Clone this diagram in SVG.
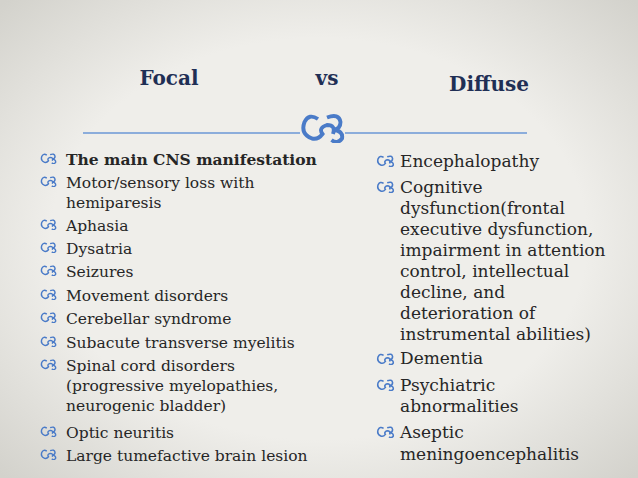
<svg xmlns="http://www.w3.org/2000/svg" width="638" height="478" viewBox="0 0 638 478">
<style>
.l{font-family:"DejaVu Serif","Liberation Serif",serif;font-size:15.5px;fill:#262626}
.r{font-family:"DejaVu Serif","Liberation Serif",serif;font-size:17px;fill:#262626}
.h{font-family:"DejaVu Serif","Liberation Serif",serif;font-weight:bold;font-size:20px;fill:#1f2f55}
</style>
<defs>
<radialGradient id="bg" cx="50%" cy="50%" r="70%">
<stop offset="0.6" stop-color="#efeeea"/><stop offset="1" stop-color="#d3d2cc"/>
</radialGradient>
<symbol id="b" viewBox="0 0 16 10">
<path d="M6 2 Q3 0 1.5 3 Q0 7 4 8.5 Q6 9 7.5 7 Q6 5 9 4 Q12 4 11 7 M9 1.5 Q13 0 13.5 3 Q13.5 5.5 11 5.5 Q14.5 6 14 8.5 Q12.5 10.5 10.5 9" fill="none" stroke="#4a7bc8" stroke-width="1.3"/>
</symbol>
</defs>
<rect width="638" height="478" fill="url(#bg)"/>
<g id="header">
<text class="h" x="169" y="85" text-anchor="middle">Focal</text>
<text class="h" x="327" y="85" text-anchor="middle">vs</text>
<text class="h" x="489" y="91" text-anchor="middle">Diffuse</text>
</g>
<g id="divider">
<line x1="83" y1="133" x2="300" y2="133" stroke="#6b97d6" stroke-width="1.3"/>
<line x1="345" y1="133" x2="527" y2="133" stroke="#6b97d6" stroke-width="1.3"/>
<use href="#b" x="300" y="113" width="48" height="30"/>
</g>
<g id="left">
<use href="#b" x="40" y="153" width="18" height="11"/><text class="l" x="66" y="165" font-weight="bold">The main CNS manifestation</text>
<use href="#b" x="40" y="176" width="18" height="11"/><text class="l" x="66" y="188">Motor/sensory loss with</text>
<text class="l" x="66" y="208">hemiparesis</text>
<use href="#b" x="40" y="219" width="18" height="11"/><text class="l" x="66" y="231">Aphasia</text>
<use href="#b" x="40" y="242" width="18" height="11"/><text class="l" x="66" y="254">Dysatria</text>
<use href="#b" x="40" y="265" width="18" height="11"/><text class="l" x="66" y="277">Seizures</text>
<use href="#b" x="40" y="289" width="18" height="11"/><text class="l" x="66" y="301">Movement disorders</text>
<use href="#b" x="40" y="312" width="18" height="11"/><text class="l" x="66" y="324">Cerebellar syndrome</text>
<use href="#b" x="40" y="336" width="18" height="11"/><text class="l" x="66" y="348">Subacute transverse myelitis</text>
<use href="#b" x="40" y="359" width="18" height="11"/><text class="l" x="66" y="371">Spinal cord disorders</text>
<text class="l" x="66" y="391">(progressive myelopathies,</text>
<text class="l" x="66" y="411">neurogenic bladder)</text>
<use href="#b" x="40" y="426" width="18" height="11"/><text class="l" x="66" y="438">Optic neuritis</text>
<use href="#b" x="40" y="449" width="18" height="11"/><text class="l" x="66" y="461">Large tumefactive brain lesion</text>
</g>
<g id="right">
<use href="#b" x="376" y="155" width="20" height="12"/><text class="r" x="400" y="167">Encephalopathy</text>
<use href="#b" x="376" y="181" width="20" height="12"/><text class="r" x="400" y="193">Cognitive</text>
<text class="r" x="400" y="214">dysfunction(frontal</text>
<text class="r" x="400" y="235">executive dysfunction,</text>
<text class="r" x="400" y="256">impairment in attention</text>
<text class="r" x="400" y="277">control, intellectual</text>
<text class="r" x="400" y="298">decline, and</text>
<text class="r" x="400" y="319">deterioration of</text>
<text class="r" x="400" y="340">instrumental abilities)</text>
<use href="#b" x="376" y="353" width="20" height="12"/><text class="r" x="400" y="364">Dementia</text>
<use href="#b" x="376" y="379" width="20" height="12"/><text class="r" x="400" y="391"> Psychiatric</text>
<text class="r" x="400" y="412">abnormalities</text>
<use href="#b" x="376" y="426" width="20" height="12"/><text class="r" x="400" y="438"> Aseptic</text>
<text class="r" x="400" y="460">meningoencephalitis</text>
</g>
</svg>
